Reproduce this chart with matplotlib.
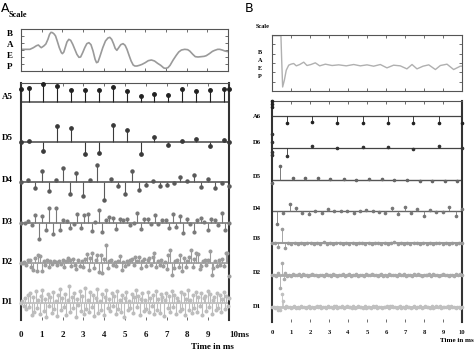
import numpy as np
import matplotlib
matplotlib.use("Agg")
import matplotlib.pyplot as plt

W, H = 474, 351
SERIF = "Liberation Serif"

# ---------------- Panel A data ----------------
baep_a_t = [0, 0.43, 0.6, 0.75, 0.84, 0.92, 0.98, 1.1, 1.2, 1.3, 1.38, 1.45, 1.52, 1.6, 1.67, 1.75, 1.85, 1.95, 2.0, 2.07, 2.15, 2.22, 2.31, 2.4, 2.5, 2.6, 2.7, 2.8, 2.88, 2.98, 3.08, 3.18, 3.28, 3.38, 3.48, 3.58, 3.65, 3.72, 3.82, 3.95, 4.08, 4.2, 4.29, 4.38, 4.47, 4.55, 4.63, 4.72, 4.82, 4.93, 5.03, 5.12, 5.22, 5.32, 5.42, 5.5, 5.6, 5.72, 5.85, 6.0, 6.15, 6.3, 6.45, 6.6, 6.75, 6.9, 7.0, 7.1, 7.2, 7.35, 7.5, 7.62, 7.75, 7.91, 8.05, 8.15, 8.3, 8.42, 8.55, 8.7, 8.85, 8.95, 9.1, 9.25, 9.36, 9.5, 9.6, 9.72, 9.85, 10]
baep_a_v = [0, 0, 5, 11, 13, 8, 5, 10, 16, 30, 45, 51, 50, 46, 40, 25, 5, -10, -13, -8, 8, 22, 30, 27, 15, 0, -15, -24, -23, -10, 5, 17, 20, 14, -5, -30, -40, -38, -20, 5, 25, 34, 36, 30, 17, 3, -3, 5, 14, 17, 12, 0, -18, -35, -47, -50, -50, -48, -45, -40, -34, -32, -35, -42, -48, -56, -57, -55, -48, -32, -18, -8, -2, 0, -1, -5, -15, -22, -23, -22, -21, -19, -13, -6, -3, 0, 0, -2, -5, -7]

a_t16 = [0, 0.4, 1.08, 1.72, 2.41, 3.09, 3.76, 4.42, 5.1, 5.76, 6.4, 7.07, 7.75, 8.42, 9.08, 9.76, 10]
a5_vals = [12.7, 14.3, 17.7, 15.7, 12.3, 12.3, 11.7, 15.3, 10.7, 6.3, 7.7, 7, 13.3, 10.7, 11.7, 13.3, 12.7]
d5_vals = [0, 0.7, -9.3, 15.7, 14.3, -11.7, -11, 17.3, 11.7, -11.7, 5, -2.7, 0.7, 3, -4, 2.3, 0]
d4_vals = [0, 1.7, -5.7, 10.7, -9, 1.7, 14, -11.7, 9, -14.3, 1.7, 16.7, -17.7, 3.3, -4, -11.7, 11, -8.3, -2.7, 0.7, -4, -2.7, -1, 5, 1, 6.7, -5, 3.3, -5.7, -1, -4.3]
d3_vals = [0, 0, 2, -1.7, 7.7, -16.3, 6.7, -6.7, 15.3, -10.7, 15.3, -6.7, 2.7, 2, -4.7, -1.3, 9.3, -4.7, 7.7, 8.7, -8, 1, 13.3, -9, 3.3, 6, 5.3, -5.7, 3.7, 3.3, 3.7, -2.3, 0, 10, -5.7, 4.3, 4.3, -1.3, 7.7, -1.3, 3.3, 3.3, -4.7, 9.3, -4, 6.7, -10, 4.3, -1.3, -9, 2.7, 5.3, 1, -6.7, 4.3, 3.3, -2.3, 10, -6.7, 0]
d2_vals = [0, 0, 1, -2, 3, 3, -4, -7, 5, -8, 8, 7, -8, 2, -2, 3, -4, 2, -1, 2, 1, -2, 2, -1, 3, -4, 2, 5, 3, -3, 4, -2, -6, 3, -3, 2, -4, 4, 9, -7, 5, 10, -5, 3, 8, -9, 8, -10, 4, 18, -5, 2, 3, -2, 1, -3, 2, 7, -7, 1, -3, 2, -1, 3, 4, -2, 6, 2, 6, -5, 2, 4, -3, 3, 5, -2, 6, 10, -4, 2, -2, 3, -3, 1, -6, 8, 13, -12, -5, 2, 3, -4, 8, -8, 5, -4, 2, 6, 13, -4, 4, 10, 9, -6, -3, 2, 3, -2, 3, 12, -12, -5, 2, -3, 3, -2, 4, -3, 10, 10, -13]
d1_vals = [0, 2, -3, 5, -6, 8, -4, 10, -12, 6, -9, 12, -5, 3, -11, 7, 13, -8, 4, -14, 9, -3, 6, -10, 11, -6, 2, -13, 8, 14, -7, 5, -4, 9, -12, 3, 17, -9, 6, -5, 10, -14, 4, -2, 12, -8, 7, -11, 15, -6, 3, -9, 11, -4, 8, -13, 5, 14, -10, 2, -7, 9, -12, 6, 13, -5, 4, -8, 10, -3, 7, -11, 12, -6, 3, -9, 8, -14, 5, 11, -7, 2, -5, 9, -10, 6, 13, -4, 7, -12, 4, 10, -8, 3, -6, 11, -9, 5, -3, 8, -11, 12, -7, 4, -10, 9, 6, -13, 3, 10, -5, 7, -9, 12, -4, 8, -11, 5, 2, -8, 11, -6, 9, -12, 4, 13, -7, 3, -10, 8, -5, 11, -9, 6, -3, 10, -12, 5, 7, -8, 12, -4, 9, -11, 3, 6, -7, 10, -5, 8, -9, 4, 11, -6, 7, -3, 5]
a_rows = ["A5", "D5", "D4", "D3", "D2", "D1"]
a_ticks = [0, 1, 2, 3, 4, 5, 6, 7, 8, 9, 10]
a_ticklabels = ["0", "1", "2", "3", "4", "5", "6", "7", "8", "9", "10ms"]

# ---------------- Panel B data ----------------
baep_b_t = [0, 0.47, 0.51, 0.56, 0.65, 0.75, 0.88, 1.0, 1.14, 1.28, 1.46, 1.67, 1.84, 2.05, 2.28, 2.51, 2.81, 3.16, 3.51, 3.91, 4.3, 4.65, 5.0, 5.35, 5.7, 6.05, 6.4, 6.75, 7.1, 7.37, 7.63, 7.95, 8.25, 8.6, 8.86, 9.21, 9.56, 9.91, 10]
baep_b_v = [93, 93, 20, -60, -40, -10, 5, 8, 10, 3, 7, 14, 4, 7, 12, 3, 8, 4, 6, 3, 7, 3, 6, 2, 7, -3, 5, 3, -6, 7, -6, 2, 6, -8, 4, 8, -8, 2, 2]

b_a6_t = [0, 0, 0, 0.79, 2.1, 3.42, 4.77, 6.1, 7.42, 8.77, 10]
b_a6_vals = [14.7, 12.3, 9, -7, -6, -6.7, -7, -7, -6.7, -6.7, -7]
b_d6_t = [0, 0, 0, 0, 0.79, 2.1, 3.42, 4.77, 6.1, 7.42, 8.77, 10]
b_d6_vals = [13.3, 6, -4, -7.3, -8, 2, 0, 0.7, 0.7, -1, 2, 0]
b_d5_t = [0, 0.44, 1.09, 1.75, 2.42, 3.07, 3.77, 4.44, 5.09, 5.79, 6.44, 7.11, 7.77, 8.42, 9.09, 9.74]
b_d5_vals = [-3.3, 14.3, 2.3, 2, 1.7, 1, 1, 0, 1, 1, 0, 0, -0.7, -0.7, -1, -0.7]
b_d4_vals = [-13, -2.3, 7, 2.7, -1.7, -3, 0, -2.3, 1.7, 0, 0.3, 0.3, -1.7, 0.3, 1, 0.3, -0.7, -2.3, 3.3, -3, 3.7, -2.3, 1.7, -4.7, 1, -0.7, -0.7, 4.3, -4.7, 1.7]
b_d3_vals = [0, 0.5, -3.3, 14, -5, 0.7, -0.5, 0.6, -0.4, 0.8, -0.6, 0.3, 0.5, -0.7, 0.4, -0.5, 0.9, -0.3, 0.6, -0.8, 0.4, 0.5, -0.6, 0.3, -0.4, 0.7, -0.5, 0.4, 0.6, -0.3, 0.5, -0.7, 0.3, 0.8, -0.5, 0.4, -0.6, 0.5, 0.9, -0.4, 0.3, -0.7, 0.6, -0.3, 0.5, 0.4, -0.6, 0.7, -0.4, 0.3, -0.5, 0.6, 0.8, -0.5, 0.4, -0.3, 0.6, -0.7, 0.4, 0]
b_d2_vals = [0, 0.4, -0.5, 2.3, -13.3, 12.3, -4.3, 1.7, -0.8, 0.5, -0.6, 0.7, -0.4, 0.3, 0.6, -0.5, 0.8, -0.3, 0.4, -0.7, 0.5, 0.6, -0.4, 0.3, -0.8, 0.5, 0.4, -0.6, 0.7, -0.3, 0.5, -0.5, 0.6, 0.3, -0.7, 0.4, -0.4, 0.8, -0.5, 0.3, 0.6, -0.6, 0.4, -0.3, 0.7, -0.5, 0.5, 0.3, -0.8, 0.6, -0.4, 0.4, 0.7, -0.3, 0.5, -0.6, 0.3, 0.8, -0.5, 0.4, -0.7, 0.6, 0.3, -0.4, 0.5, -0.6, 0.7, 0.4, -0.3, 0.6, -0.8, 0.5, 0.3, -0.5, 0.6, -0.4, 0.8, 0.3, -0.6, 0.5, -0.3, 0.4, 0.7, -0.5, 0.6, -0.4, 0.3, -0.7, 0.5, 0.8, -0.3, 0.4, -0.6, 0.5, 0.3, -0.5, 0.7, -0.4, 0.6, 0]
b_d1_vals = [0, 0.5, -0.6, 0.4, -3, -2.7, 13.3, 5.7, -1, 0.6, -0.4, 0.5, -0.7, 0.3, 0.8, -0.5, 0.4, -0.6, 0.9, -0.3, 0.5, -0.8, 0.4, 0.6, -0.5, 0.3, -0.7, 0.5, 0.8, -0.4, 0.6, -0.9, 0.3, 0.5, -0.6, 0.7, -0.3, 0.4, -0.8, 0.6, 0.9, -0.5, 0.3, -0.4, 0.7, -0.6, 0.5, 0.8, -0.3, 0.4, -0.7, 0.6, -0.5, 0.3, 0.9, -0.4, 0.5, -0.6, 0.7, -0.8, 0.4, 0.3, -0.5, 0.6, -0.4, 0.8, -0.7, 0.5, 0.3, -0.6, 0.4, -0.3, 0.7, -0.5, 0.6, 0.9, -0.4, 0.5, -0.8, 0.3, 0.6, -0.5, 0.4, -0.7, 0.8, -0.3, 0.5, -0.6, 0.4, 0.7, -0.5, 0.3, -0.4, 0.6, -0.8, 0.5, 0.9, -0.3, 0.4, -0.6, 0.7, -0.5, 0.3, 0.8, -0.4, 0.6, -0.7, 0.5, -0.3, 0.4, 0.6, -0.5, 0.8, -0.4, 0.3, -0.6, 0.5, 0.4, -0.5, 0]
b_rows = ["A6", "D6", "D5", "D4", "D3", "D2", "D1"]
b_ticks = [0, 1, 2, 3, 4, 5, 6, 7, 8, 9, 10]
b_ticklabels = ["0", "1", "2", "3", "4", "5", "6", "7", "8", "9", "10"]


def rect(x0, y0, x1, y1):
    return [x0 / W, 1 - y1 / H, (x1 - x0) / W, (y1 - y0) / H]


def ptext(x, y, s, size, ha="left", va="center", **kw):
    fig.text(x / W, 1 - y / H, s, fontsize=size, ha=ha, va=va, **kw)


def stems(ax, t, vals, base, color, ms, lw=0.7, base_lw=1.0, base_color=None):
    t = np.asarray(t, float)
    v = np.asarray(vals, float)
    ax.hlines(base, 0, 10, color=base_color or color, lw=base_lw, zorder=1)
    ax.vlines(t, base, base + v, color=color, lw=lw, zorder=2)
    ax.plot(t, base + v, "o", ms=ms, color=color, mec=color, zorder=3, clip_on=False)


def baep_box(ax, ylim):
    ax.set_xlim(0, 10)
    ax.set_ylim(*ylim)
    ax.set_xticks(range(11))
    yl = np.linspace(ylim[0], ylim[1], 7)[1:-1]
    ax.set_yticks(yl)
    ax.tick_params(direction="in", length=2, width=0.6, top=True, right=True,
                   labelbottom=False, labelleft=False, colors="#555")
    for s in ax.spines.values():
        s.set_color("#555")
        s.set_linewidth(0.8)


def stem_box(ax, top):
    ax.set_xlim(0, 10)
    ax.set_ylim(0, top)
    ax.set_yticks([])
    ax.spines["bottom"].set_visible(False)
    ax.spines["top"].set_color("#555")
    ax.spines["top"].set_linewidth(0.8)
    for k in ("left", "right"):
        ax.spines[k].set_color("#333")
        ax.spines[k].set_linewidth(1.5)
    ax.tick_params(axis="x", direction="in", length=2, width=0.6, top=True,
                   colors="#555", labelcolor="#111")


fig = plt.figure(figsize=(W / 100, H / 100), dpi=100)

# ================= Panel A =================
ptext(1, 8, "A", 9, family="DejaVu Sans")
ptext(9, 15, "Scale", 6, weight="bold", family=SERIF)
for s, y in zip("BAEP", [34, 45, 56, 67]):
    ptext(7, y, s, 6.5, weight="bold", family=SERIF)

axA1 = fig.add_axes(rect(21, 29, 228, 71))
axA1.plot(baep_a_t, baep_a_v, color="#9a9a9a", lw=1.2, solid_joinstyle="round")
baep_box(axA1, (-65, 61))

axA2 = fig.add_axes(rect(21, 83, 229, 320))
stem_box(axA2, 237)
a_base = [218, 178, 138, 97, 57, 17]
a_cols = ["#222222", "#3a3a3a", "#5a5a5a", "#7a7a7a", "#9c9c9c", "#bdbdbd"]
a_ms = [2.5, 2.4, 2.2, 2.0, 1.9, 1.9]
a_data = [(a_t16, a5_vals), (a_t16, d5_vals),
          (np.linspace(0, 10, len(d4_vals)), d4_vals),
          (np.linspace(0, 10, len(d3_vals)), d3_vals),
          (np.linspace(0, 10, len(d2_vals)), d2_vals),
          (np.linspace(0, 10, len(d1_vals)), d1_vals)]
for (t, v), b, c, m in zip(a_data, a_base, a_cols, a_ms):
    stems(axA2, t, v, b, c, m, lw=0.8, base_lw=1.2, base_color="#555" if b > 150 else c)
for lab, y in zip(a_rows, [97, 138, 180, 222, 262, 302]):
    ptext(2, y, lab, 6.5, weight="bold", family=SERIF)
axA2.set_xticks(a_ticks, a_ticklabels, fontsize=6.5, family=SERIF, weight="bold")
axA2.tick_params(axis="x", pad=8)
axA2.get_xticklabels()[-1].set_ha("left")
ptext(212, 347, "Time in ms", 6.5, ha="center", weight="bold", family=SERIF)

# ================= Panel B =================
ptext(245, 8, "B", 9, family="DejaVu Sans")
ptext(256, 26, "Scale", 4.5, weight="bold", family=SERIF)
for s, y in zip("BAEP", [53, 61, 69, 77]):
    ptext(258, y, s, 4.5, weight="bold", family=SERIF)

axB1 = fig.add_axes(rect(272, 35, 462, 91))
axB1.plot(baep_b_t, baep_b_v, color="#b0b0b0", lw=1.0, solid_joinstyle="round")
baep_box(axB1, (-72, 95))

axB2 = fig.add_axes(rect(272, 101, 462, 322))
stem_box(axB2, 221)
b_base = [206, 174.3, 142, 111, 78.7, 47, 15]
b_cols = ["#222222", "#333333", "#666666", "#777777", "#999999", "#aaaaaa", "#c0c0c0"]
b_data = [(b_a6_t, b_a6_vals), (b_d6_t, b_d6_vals), (b_d5_t, b_d5_vals),
          (np.linspace(0.26, 10, len(b_d4_vals)), b_d4_vals),
          (np.linspace(0, 10, len(b_d3_vals)), b_d3_vals),
          (np.linspace(0, 10, len(b_d2_vals)), b_d2_vals),
          (np.linspace(0, 10, len(b_d1_vals)), b_d1_vals)]
b_blw = [0.9, 0.9, 1.0, 1.0, 1.5, 2.0, 2.0]
b_bc = ["#444", "#444", "#555", "#666", "#999", "#aaa", "#c0c0c0"]
for (t, v), b, c, blw, bc in zip(b_data, b_base, b_cols, b_blw, b_bc):
    stems(axB2, t, v, b, c, 1.6, lw=0.6, base_lw=blw, base_color=bc)
for lab, y in zip(b_rows, [116, 143, 177, 209, 239, 272, 307]):
    ptext(253, y, lab, 4.8, weight="bold", family=SERIF)
axB2.set_xticks(b_ticks, b_ticklabels, fontsize=4.8, family=SERIF, weight="bold")
axB2.tick_params(axis="x", pad=6)
ptext(440, 341, "Time in ms", 5.0, weight="bold", family=SERIF)

fig.savefig("out.png", dpi=100)
